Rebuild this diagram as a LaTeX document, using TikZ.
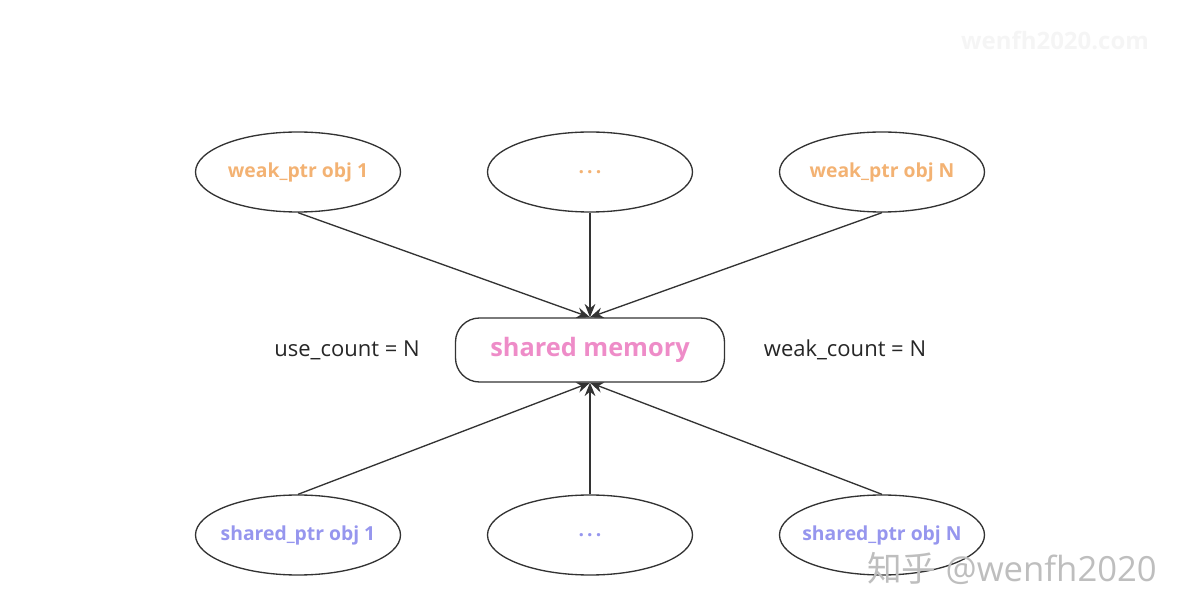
\documentclass[tikz,border=0pt]{standalone}
\usepackage{fontspec}
\setmainfont{Open Sans}
\newfontfamily\cjkfont{Noto Sans CJK SC}
\usetikzlibrary{shapes.geometric,arrows.meta}

\definecolor{weakorange}{RGB}{243,178,115}
\definecolor{sharedblue}{RGB}{150,150,238}
\definecolor{mempink}{RGB}{238,140,200}
\definecolor{linegray}{RGB}{51,51,51}
\definecolor{markgray}{RGB}{190,190,190}
\definecolor{faintgray}{RGB}{245,245,245}

% label kept out of the ellipse size
\newcommand{\objlbl}[1]{\makebox[0pt]{#1}}

\tikzset{every picture/.style={line width=1pt}}
\tikzset{
  ptrobj/.style={draw=linegray, ellipse, minimum width=153.75pt, minimum height=60pt, inner sep=0pt, font=\fontsize{14.5}{17}\selectfont\bfseries},
  membox/.style={draw=linegray, rounded corners=18pt, minimum width=201.75pt, minimum height=48pt, inner sep=0pt, font=\fontsize{19}{22}\selectfont\bfseries, text=mempink},
  countlbl/.style={inner sep=0.75pt, font=\fontsize{16.5}{19}\selectfont, text=black!85},
  link/.style={draw=linegray, -{Stealth[length=10pt,width=8pt]}}
}

\begin{document}
\begin{tikzpicture}[x=0.75pt,y=0.75pt,yscale=-1,xscale=1]
\useasboundingbox (0,0) rectangle (1189,616);

%Shape: Rounded Rectangle [id:mem]
\node [membox] (mem) at (590,350) {shared memory};

%Shape: Ellipse weak_ptr row
\node [ptrobj, text=weakorange] (w1) at (298,172) {\objlbl{weak\_ptr obj 1}};
\node [ptrobj, text=weakorange] (w2) at (590,172) {\objlbl{.\,.\,.}};
\node [ptrobj, text=weakorange] (w3) at (882,172) {\objlbl{weak\_ptr obj N}};

%Shape: Ellipse shared_ptr row
\node [ptrobj, text=sharedblue] (s1) at (298,535) {\objlbl{shared\_ptr obj 1}};
\node [ptrobj, text=sharedblue] (s2) at (590,535) {\objlbl{.\,.\,.}};
\node [ptrobj, text=sharedblue] (s3) at (882,535) {\objlbl{shared\_ptr obj N}};

%Straight Lines
\draw [link] (w1.south) -- (mem.north);
\draw [link] (w2.south) -- (mem.north);
\draw [link] (w3.south) -- (mem.north);
\draw [link] (s1.north) -- (mem.south);
\draw [link] (s2.north) -- (mem.south);
\draw [link] (s3.north) -- (mem.south);

% Text Node
\node [countlbl] (usecnt) at (347,350) {use\_count = N};
% Text Node
\node [countlbl] (weakcnt) at (845,350) {weak\_count = N};

% Text Node (watermarks)
\node [inner sep=0pt, text=faintgray, font=\fontsize{18}{21}\selectfont\bfseries] (wmtop) at (1055,40) {wenfh2020.com};
\node [inner sep=0pt, text=markgray, font=\fontsize{26}{30}\selectfont] (wmbot) at (1012,568) {{\cjkfont 知乎} @wenfh2020};

\end{tikzpicture}
\end{document}
